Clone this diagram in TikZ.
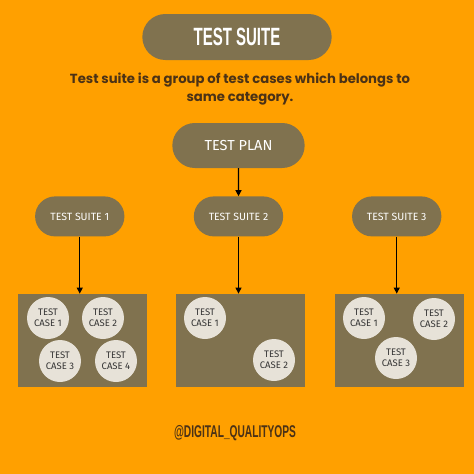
\documentclass[tikz,border=0pt]{standalone}
\usepackage{fontspec}
\setmainfont{Fira Sans}
\newfontfamily\headfont{Liberation Sans}[FakeStretch=0.6]
\newfontfamily\introfont{Poppins}
\usetikzlibrary{shapes,arrows.meta,positioning}
\definecolor{bgorange}{HTML}{FFA000}
\definecolor{olive}{HTML}{80724F}
\definecolor{pale}{HTML}{E7E2D8}
\definecolor{darkbrown}{HTML}{4B3216}
\tikzstyle{banner} = [rounded rectangle, fill=olive, text=white,
    minimum width=196pt, minimum height=46pt, font=\headfont\bfseries\fontsize{25}{25}\selectfont]
\tikzstyle{plan} = [rounded rectangle, fill=olive, text=white,
    minimum width=139pt, minimum height=45pt, font=\fontsize{14.5}{15}\selectfont]
\tikzstyle{suite} = [rounded rectangle, fill=olive, text=white,
    minimum width=96pt, minimum height=40pt, font=\fontsize{10.5}{10}\selectfont]
\tikzstyle{casebox} = [rectangle, fill=olive, minimum width=129pt, minimum height=93pt]
\tikzstyle{testcase} = [circle, fill=pale, text=black!80, minimum size=42pt,
    inner sep=0pt, align=center, font=\fontsize{9.5}{11}\selectfont]
\tikzstyle{link} = [draw, -{Triangle[length=6pt,width=6pt]}, line width=1.2pt]

\begin{document}
\begin{tikzpicture}[x=1pt, y=-1pt]
    \fill[bgorange] (0,0) rectangle (474,474);
    \useasboundingbox (0,0) rectangle (474,474);

    \node[banner] (title) at (237,37) {TEST SUITE};
    \node[text=darkbrown, align=center, font=\introfont\bfseries\fontsize{13.2}{18}\selectfont]
        (intro) at (240,89) {Test suite is a group of test cases which belongs to\\same category.};

    \node[plan] (plan) at (238.5,145.5) {TEST PLAN};
    \node[suite, below=28pt of plan] (suite2) {TEST SUITE 2};
    \node[suite, left=69pt of suite2] (suite1) {TEST SUITE 1};
    \node[suite, right=68.5pt of suite2] (suite3) {TEST SUITE 3};

    \node[casebox, below=57pt of suite1, xshift=3pt] (box1) {};
    \node[casebox, below=57pt of suite2, xshift=1.5pt] (box2) {};
    \node[casebox, below=57pt of suite3, xshift=2.5pt] (box3) {};

    \node[testcase] (s1c1) at (48,318) {TEST\\CASE 1};
    \node[testcase] (s1c2) at (103,318) {TEST\\CASE 2};
    \node[testcase] (s1c3) at (60,361) {TEST\\CASE 3};
    \node[testcase] (s1c4) at (116,361) {TEST\\CASE 4};

    \node[testcase] (s2c1) at (205,318) {TEST\\CASE 1};
    \node[testcase] (s2c2) at (274,360) {TEST\\CASE 2};

    \node[testcase] (s3c1) at (364,318) {TEST\\CASE 1};
    \node[testcase] (s3c2) at (434,319) {TEST\\CASE 2};
    \node[testcase] (s3c3) at (396,358) {TEST\\CASE 3};

    \node[text=darkbrown, font=\headfont\bfseries\fontsize{17}{17}\selectfont]
        (handle) at (235,433) {@DIGITAL\_QUALITYOPS};

    \path[link] (plan) -- (suite2);
    \path[link] (suite1.south) -- (suite1.south |- box1.north);
    \path[link] (suite2.south) -- (suite2.south |- box2.north);
    \path[link] (suite3.south) -- (suite3.south |- box3.north);
\end{tikzpicture}
\end{document}
